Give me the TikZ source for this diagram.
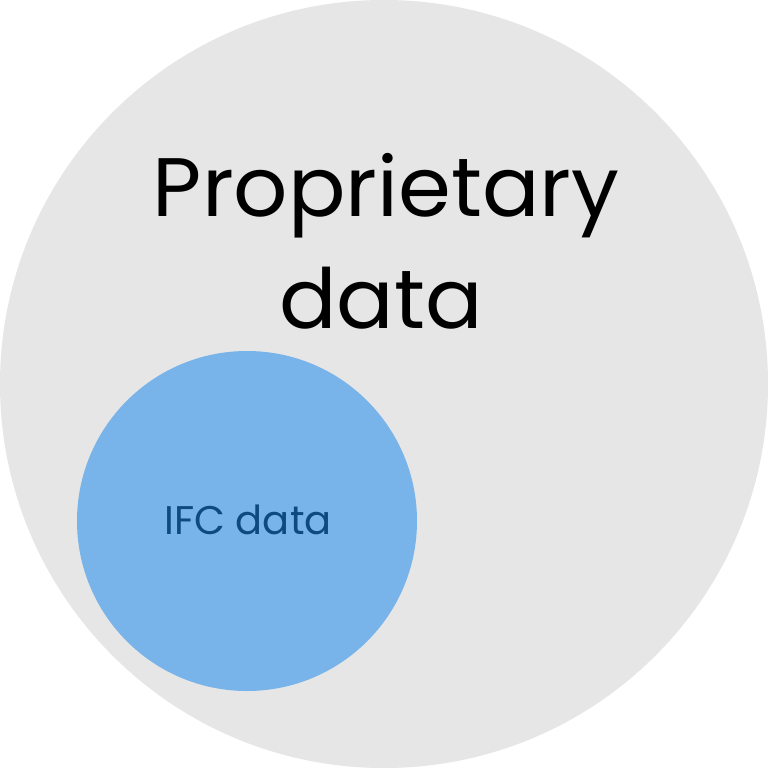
\documentclass[tikz,border=0pt]{standalone}
\usepackage{fontspec}
\setmainfont{Poppins}
\definecolor{biggray}{HTML}{E6E6E6}
\definecolor{ifcblue}{HTML}{78B4E9}
\definecolor{ifctext}{HTML}{0E4A7E}
\begin{document}
\begin{tikzpicture}[x=1pt,y=-1pt,
  bigtext/.style={font=\fontsize{83}{108}\selectfont, text=black, align=center, inner sep=0pt, xscale=1.025},
  smalltext/.style={font=\fontsize{40}{48}\selectfont, text=ifctext, inner sep=0pt}]
\useasboundingbox (0,0) rectangle (768,768);
\fill[white] (0,0) rectangle (768,768);
\node[circle, fill=biggray, minimum size=768pt, inner sep=0pt] (big) at (384,384) {};
\node[circle, fill=ifcblue, minimum size=340pt, inner sep=0pt] (ifc) at (247,521) {};
\node[bigtext, anchor=base] (prop) at (386,216) {Proprietary};
\node[bigtext, anchor=base] (data) at (381,328) {data};
\node[smalltext, anchor=base] (ifclabel) at (248,534) {IFC data};
\end{tikzpicture}
\end{document}
